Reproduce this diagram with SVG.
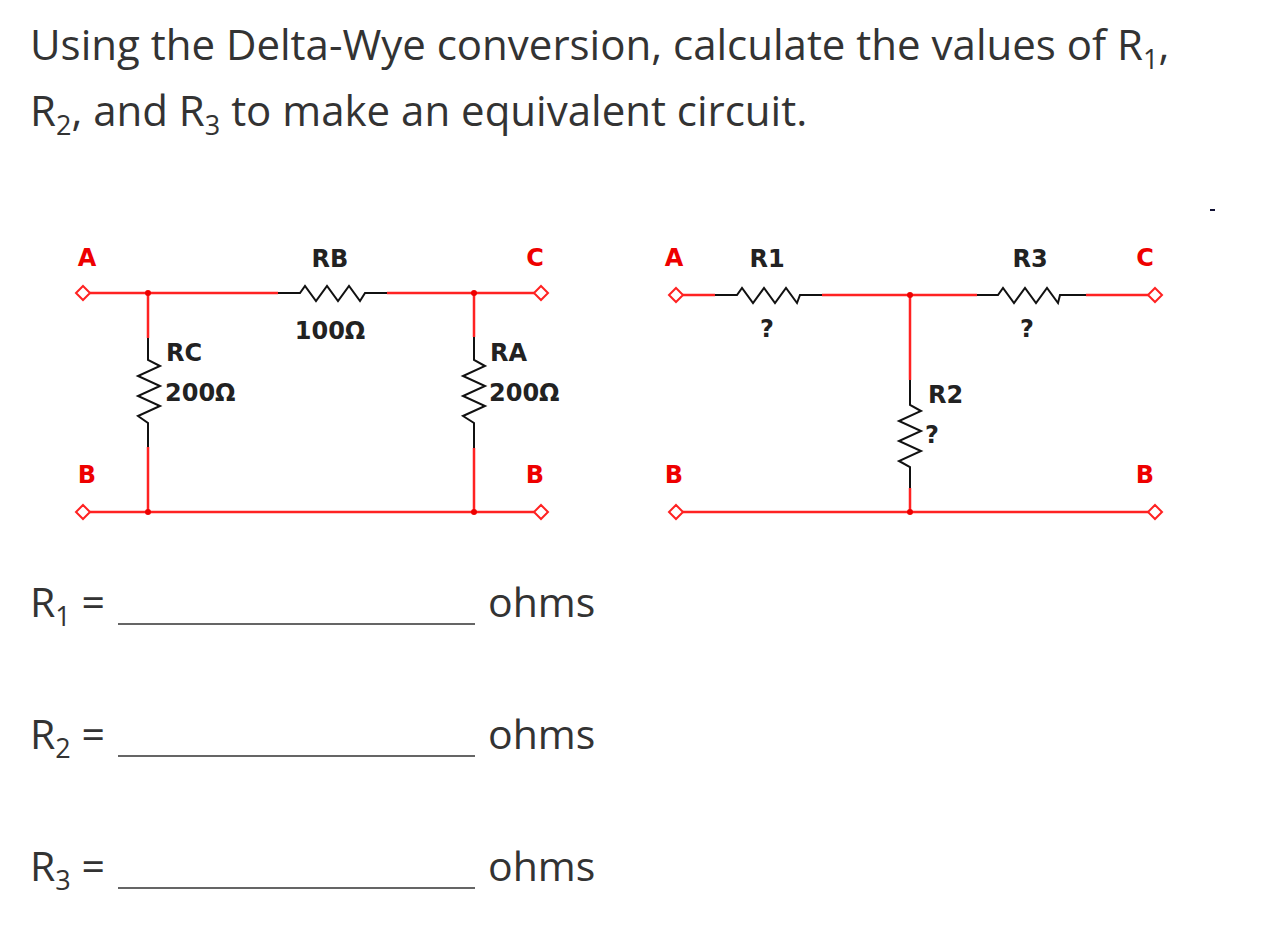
<svg xmlns="http://www.w3.org/2000/svg" width="1284" height="941" viewBox="0 0 1284 941">
<style>
.q{font-family:"Open Sans","Noto Sans",sans-serif;font-size:41px;fill:#333}
.t{font-size:42px}
.s{font-size:27px}
.l{font-family:"DejaVu Sans","Liberation Sans",sans-serif;font-weight:bold;font-size:24px;fill:#222}
.r{fill:#e00}
.w{stroke:#f22;stroke-width:2.5;fill:none}
.k{stroke:#111;stroke-width:2;fill:none}
.d{fill:#fff;stroke:#f22;stroke-width:2}
.j{fill:#e00}
</style>
<rect width="1284" height="941" fill="#fff"/>
<text class="q t" x="30" y="60">Using the Delta-Wye conversion, calculate the values of R<tspan class="s" dy="9">1</tspan><tspan dy="-9">,</tspan></text>
<text class="q t" x="30" y="126">R<tspan class="s" dy="9">2</tspan><tspan dy="-9">, and R</tspan><tspan class="s" dy="9">3</tspan><tspan dy="-9"> to make an equivalent circuit.</tspan></text>
<g id="connectors">
<path class="w" d="M90 293H278M387 293H534M148 293V338M148 447V512M474 293V337M474 448V512M90 512H534"/>
<path class="k" d="M278 293H300L305 286L316 301L327 286L338 301L349 286L360 301L365 293H387"/>
<path class="k" d="M148 338V360L160 366L138 376L160 386L138 396L160 406L138 416L148 423V447"/>
<path class="k" d="M474 337V360L485 366L463 376L485 386L463 396L485 406L463 416L474 423V448"/>
<path class="w" d="M683 295H715M822 295H977M1086 295H1148M910 295V380M910 488V512M683 512H1148"/>
<path class="k" d="M715 295H737L742 288L753 303L764 288L775 303L786 288L797 303L800 295H822"/>
<path class="k" d="M977 295H998L1003 288L1014 303L1025 288L1036 303L1047 288L1058 303L1060 295H1086"/>
<path class="k" d="M910 380V405L921 411L899 421L921 431L899 441L921 451L899 461L910 467V488"/>
</g>
<g id="terminals">
<path class="d" d="M83 286L90 293L83 300L76 293Z"/><path class="d" d="M541 286L548 293L541 300L534 293Z"/>
<path class="d" d="M83 505L90 512L83 519L76 512Z"/><path class="d" d="M541 505L548 512L541 519L534 512Z"/>
<path class="d" d="M676 288L683 295L676 302L669 295Z"/><path class="d" d="M1155 288L1162 295L1155 302L1148 295Z"/>
<path class="d" d="M676 505L683 512L676 519L669 512Z"/><path class="d" d="M1155 505L1162 512L1155 519L1148 512Z"/>
<circle class="j" cx="148" cy="293" r="3"/><circle class="j" cx="474" cy="293" r="3"/>
<circle class="j" cx="148" cy="512" r="3"/><circle class="j" cx="474" cy="512" r="3"/>
<circle class="j" cx="910" cy="295" r="3"/><circle class="j" cx="910" cy="512" r="3"/>
</g>
<g id="labels">
<text class="l r" x="87" y="266" text-anchor="middle">A</text>
<text class="l r" x="535" y="266" text-anchor="middle">C</text>
<text class="l r" x="87" y="483" text-anchor="middle">B</text>
<text class="l r" x="535" y="483" text-anchor="middle">B</text>
<text class="l" x="330" y="267" text-anchor="middle">RB</text>
<text class="l" x="330" y="339" text-anchor="middle">100Ω</text>
<text class="l" x="166" y="361">RC</text>
<text class="l" x="165" y="401">200Ω</text>
<text class="l" x="490" y="361">RA</text>
<text class="l" x="489" y="401">200Ω</text>
<text class="l r" x="674" y="266" text-anchor="middle">A</text>
<text class="l r" x="1145" y="266" text-anchor="middle">C</text>
<text class="l r" x="674" y="483" text-anchor="middle">B</text>
<text class="l r" x="1145" y="483" text-anchor="middle">B</text>
<text class="l" x="767" y="267" text-anchor="middle">R1</text>
<text class="l" x="767" y="337" text-anchor="middle">?</text>
<text class="l" x="1030" y="267" text-anchor="middle">R3</text>
<text class="l" x="1027" y="337" text-anchor="middle">?</text>
<text class="l" x="928" y="403">R2</text>
<text class="l" x="925" y="443">?</text>
</g>
<rect x="1210" y="209" width="5" height="2" fill="#113"/>
<g id="answers" class="q">
<text x="30" y="617">R<tspan class="s" dy="9">1</tspan><tspan dy="-9"> =</tspan></text>
<text x="30" y="749">R<tspan class="s" dy="9">2</tspan><tspan dy="-9"> =</tspan></text>
<text x="30" y="881">R<tspan class="s" dy="9">3</tspan><tspan dy="-9"> =</tspan></text>
<path d="M118 624H475M118 756H475M118 888H475" stroke="#333" stroke-width="1.5"/>
<text x="488" y="617">ohms</text><text x="488" y="749">ohms</text><text x="488" y="881">ohms</text>
</g>
</svg>
